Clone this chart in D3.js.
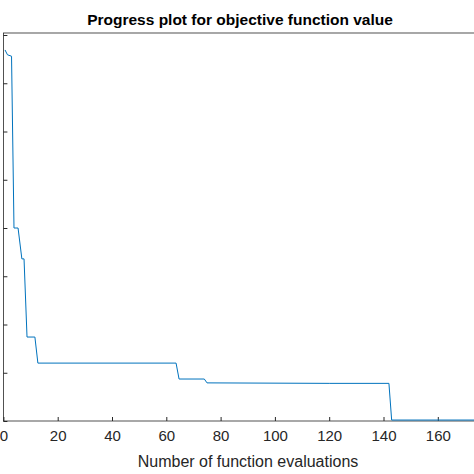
<!DOCTYPE html>
<html><head><meta charset="utf-8">
<script src="https://cdn.jsdelivr.net/npm/d3@7"></script>
<style>body{margin:0;background:#fff}text{font-family:Arial,"Liberation Sans",sans-serif}</style>
</head><body><svg id="c" width="474" height="474"></svg>
<script>
// function evaluations and objective values (y in axis units, top tick = 8)
const evals = [0.6, 1.5, 3.0, 3.9, 5.4, 6.8, 7.6, 8.7, 11.6, 12.7, 63.6, 64.7, 74, 75, 120, 142, 143, 180];
const values = [7.69, 7.59, 7.56, 4.0, 4.0, 3.36, 3.36, 1.74, 1.74, 1.2, 1.2, 0.87, 0.87, 0.79, 0.78, 0.78, 0.02, 0.02];
const xTicks = [0, 20, 40, 60, 80, 100, 120, 140, 160, 180];
const yTicks = [0, 1, 2, 3, 4, 5, 6, 7, 8];

const svg = d3.select("#c");
const x = d3.scaleLinear().domain([0, 180]).range([3.4, 3.4 + 2.715 * 180]);
const y = d3.scaleLinear().domain([0, 8]).range([421, 35]);
const axTop = 33;

svg.append("rect").attr("x", x(0)).attr("y", axTop).attr("width", 480).attr("height", 421 - axTop)
  .attr("fill", "none").attr("stroke", "#262626").attr("stroke-width", 0.8);

const gx = svg.append("g").attr("transform", "translate(0,421)")
  .call(d3.axisBottom(x).tickValues(xTicks).tickSize(-4).tickPadding(9));
gx.select(".domain").remove();
gx.selectAll("line").attr("stroke", "#262626");
gx.selectAll("text").attr("font-size", 15).attr("fill", "#262626");

const gy = svg.append("g").attr("transform", `translate(${x(0)},0)`)
  .call(d3.axisLeft(y).tickValues(yTicks).tickSize(-4).tickFormat(""));
gy.select(".domain").remove();
gy.selectAll("line").attr("stroke", "#262626");

const pts = evals.map((e, i) => [e, values[i]]);
svg.append("path").datum(pts)
  .attr("d", d3.line().x(d => x(d[0])).y(d => y(d[1])))
  .attr("fill", "none").attr("stroke", "#0072BD").attr("stroke-width", 1);

svg.append("text").attr("x", 240).attr("y", 25).attr("text-anchor", "middle")
  .attr("font-size", 15.5).attr("font-weight", "bold").attr("fill", "#000")
  .text("Progress plot for objective function value");
svg.append("text").attr("x", 248).attr("y", 467).attr("text-anchor", "middle")
  .attr("font-size", 16).attr("fill", "#262626").text("Number of function evaluations");
</script></body></html>
